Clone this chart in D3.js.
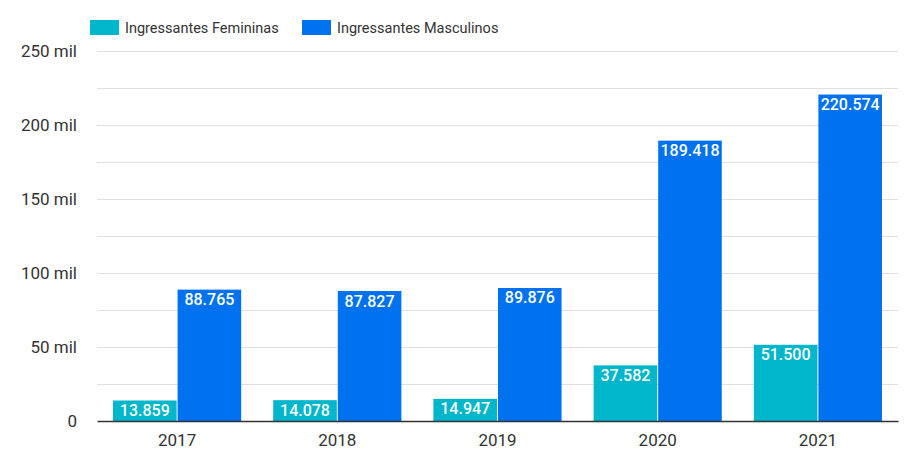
<!DOCTYPE html>
<html>
<head>
<meta charset="utf-8">
<script src="https://d3js.org/d3.v7.min.js"></script>
<style>
  body { margin: 0; background: #fff; }
  text { font-family: Roboto, sans-serif; }
</style>
</head>
<body>
<div id="chart"></div>
<script>
    // data
    var years = ["2017", "2018", "2019", "2020", "2021"];
    var seriesNames = ["Ingressantes Femininas", "Ingressantes Masculinos"];
    var femininas = [13859, 14078, 14947, 37582, 51500];
    var masculinos = [88765, 87827, 89876, 189418, 220574];
    var yTicks = [0, 50000, 100000, 150000, 200000, 250000];
    var yTickLabels = ["0", "50 mil", "100 mil", "150 mil", "200 mil", "250 mil"];
    var colors = ["#00b6cb", "#0072f0"];

    var width = 910, height = 472;
    var plotLeft = 97, plotRight = 898, plotTop = 51, plotBottom = 421;

    var svg = d3.select("#chart").append("svg")
        .attr("width", width)
        .attr("height", height);

    var x0 = d3.scaleBand().domain(years).range([plotLeft, plotRight]).paddingInner(0.2).paddingOuter(0.1);
    var x1 = d3.scaleBand().domain([0, 1]).range([0, x0.bandwidth()]).paddingInner(0.015);
    var y = d3.scaleLinear().domain([0, 250000]).range([plotBottom, plotTop]);

    // grid lines (major + minor)
    var grid = d3.range(25000, 250001, 25000);
    svg.append("g").selectAll("line")
        .data(grid)
        .enter().append("line")
        .attr("x1", plotLeft)
        .attr("x2", plotRight)
        .attr("y1", function (d) { return Math.round(y(d)) + 0.5; })
        .attr("y2", function (d) { return Math.round(y(d)) + 0.5; })
        .attr("stroke", "#e0e0e0")
        .attr("stroke-width", 1);

    // y axis labels
    var yAxis = d3.axisLeft(y).tickValues(yTicks)
        .tickFormat(function (d, i) { return yTickLabels[i]; })
        .tickSize(0).tickPadding(20);
    var gy = svg.append("g").attr("transform", "translate(" + plotLeft + ",0)").call(yAxis);
    gy.select(".domain").remove();
    gy.selectAll("text")
        .attr("font-family", "Roboto, sans-serif")
        .attr("font-size", "17px")
        .attr("fill", "#333");

    // bars
    var rows = years.map(function (yr, i) { return { year: yr, vals: [femininas[i], masculinos[i]] }; });
    var groups = svg.append("g").selectAll("g")
        .data(rows)
        .enter().append("g")
        .attr("transform", function (d) { return "translate(" + x0(d.year) + ",0)"; });

    groups.selectAll("rect")
        .data(function (d) { return d.vals.map(function (v, k) { return { k: k, v: v }; }); })
        .enter().append("rect")
        .attr("x", function (d) { return x1(d.k); })
        .attr("width", x1.bandwidth())
        .attr("y", function (d) { return y(d.v); })
        .attr("height", function (d) { return plotBottom - y(d.v); })
        .attr("fill", function (d) { return colors[d.k]; });

    groups.selectAll("text")
        .data(function (d) { return d.vals.map(function (v, k) { return { k: k, v: v }; }); })
        .enter().append("text")
        .attr("x", function (d) { return x1(d.k) + x1.bandwidth() / 2; })
        .attr("y", function (d) { return y(d.v) + 15.5; })
        .attr("text-anchor", "middle")
        .attr("font-size", "16px")
        .attr("font-weight", 500)
        .attr("fill", "#fff")
        .text(function (d) { return d3.format(",")(d.v).replace(/,/g, "."); });

    // x axis
    var xAxis = d3.axisBottom(x0).tickSize(0).tickPadding(13);
    var gx = svg.append("g").attr("transform", "translate(0," + plotBottom + ")").call(xAxis);
    gx.select(".domain").attr("stroke", "#333").attr("stroke-width", 1.5);
    gx.selectAll("text")
        .attr("font-family", "Roboto, sans-serif")
        .attr("font-size", "17px")
        .attr("fill", "#333");

    // legend
    var legendX = [90, 302];
    var legend = svg.append("g").selectAll("g")
        .data(seriesNames)
        .enter().append("g")
        .attr("transform", function (d, i) { return "translate(" + legendX[i] + ",20)"; });
    legend.append("rect")
        .attr("width", 29)
        .attr("height", 15)
        .attr("fill", function (d, i) { return colors[i]; });
    legend.append("text")
        .attr("x", 35)
        .attr("y", 13)
        .attr("font-size", "14.5px")
        .attr("fill", "#333")
        .text(function (d) { return d; });
</script>
</body>
</html>
